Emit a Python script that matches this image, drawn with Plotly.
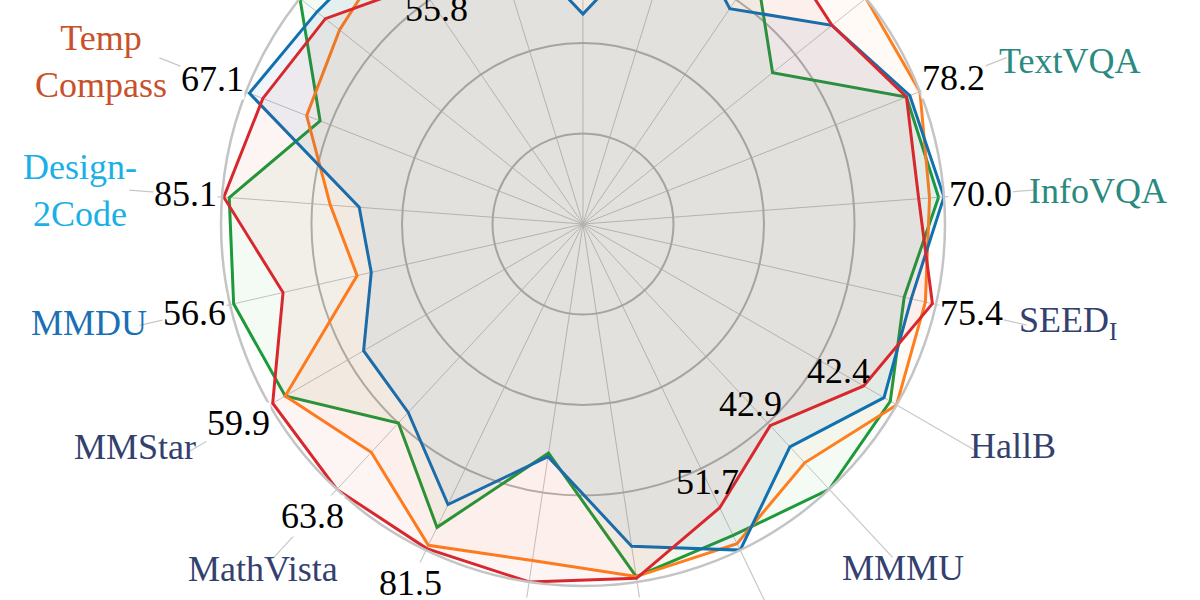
import numpy as np
import plotly.graph_objects as go

# 21 axes, clockwise starting at InfoVQA
categories = ["InfoVQA", "SEED<sub>I</sub>", "HallB", "MMMU", "MMVet", "MMBench", "MME", "AI2D",
              "MathVista", "MMStar", "MMDU", "Design-<br>2Code", "Temp<br>Compass", "VideoMME",
              "MVBench", "MLVU", "LongVideo", "OCRBench", "ChartQA", "DocVQA", "TextVQA"]
cat_colors = ["#2a8a80", "#34406e", "#34406e", "#34406e", "#34406e", "#34406e", "#34406e", "#34406e",
              "#34406e", "#34406e", "#1a6fb5", "#1ab0e6", "#c8502a", "#c8502a",
              "#c8502a", "#c8502a", "#c8502a", "#2a8a80", "#2a8a80", "#2a8a80", "#2a8a80"]
value_labels = ["70.0", "75.4", "42.4", "42.9", "51.7", "79.4", "2329.0", "81.5",
                "63.8", "59.9", "56.6", "85.1", "67.1", "", "55.8", "", "", "", "", "", "78.2"]

# normalised scores (fraction of outer ring)
red    = [0.93, 0.99, 0.895, 0.76, 0.87, 0.99, 1.00, 0.995, 1.00, 0.99, 0.85, 0.995, 0.95, 0.91,
          0.80, 0.90, 0.95, 0.97, 0.95, 0.88, 0.96]
orange = [0.96, 0.97, 1.00, 0.90, 0.98, 0.985, 0.94, 0.985, 0.86, 0.95, 0.64, 0.70, 0.82, 0.86,
          0.93, 0.92, 0.90, 0.96, 0.99, 1.00, 1.00]
green  = [0.985, 0.91, 0.98, 1.00, 0.955, 0.985, 0.64, 0.93, 0.75, 0.95, 0.99, 0.98, 0.78, 1.00,
          0.97, 0.85, 0.90, 0.92, 0.85, 0.67, 0.96]
blue   = [1.00, 0.93, 0.96, 0.84, 1.00, 0.90, 0.65, 0.86, 0.71, 0.70, 0.60, 0.62, 0.99, 0.94,
          0.95, 0.90, 0.58, 0.90, 0.72, 0.88, 0.97]

series = [("green", green, "#1c9a3a", "rgba(44,160,44,0.05)"),
          ("orange", orange, "#ff7f1e", "rgba(255,127,14,0.04)"),
          ("blue", blue, "#1170b0", "rgba(31,119,180,0.07)"),
          ("red", red, "#d8282e", "rgba(214,39,40,0.05)")]

W, H, SHIFT = 1200, 1000, 300
CX, CY, R = 583, 224 + SHIFT, 362
ROT = 4.3
STEP = 360 / len(categories)

fig = go.Figure()
for name, vals, col, fillc in series:
    fig.add_trace(go.Scatterpolar(
        r=vals + vals[:1], theta=categories + categories[:1], mode="lines",
        line=dict(color=col, width=3), fill="toself", fillcolor=fillc,
        name=name, hoverinfo="skip"))

def pt(rpx, ang):
    a = np.deg2rad(ang)
    return (CX + rpx * np.cos(a)) / W, 1 - (CY - rpx * np.sin(a)) / H

annotations, shapes = [], []
INSIDE = {2, 3, 4, 14}
for k, cat in enumerate(categories):
    ang = ROT - STEP * k
    s, c = np.sin(np.deg2rad(ang)), np.cos(np.deg2rad(ang))
    x0, y0 = pt(R, ang)
    x1, y1 = pt(455, ang)
    shapes.append(dict(type="line", xref="paper", yref="paper", x0=x0, y0=y0, x1=x1, y1=y1,
                       line=dict(color="#c8c8c8", width=1.2), layer="below"))
    if abs(s) > 0.72:
        rr, xa = 470, "center"
    else:
        rr, xa = 445, "left" if c > 0 else "right"
    lx, ly = pt(rr, ang)
    annotations.append(dict(x=lx, y=ly, xref="paper", yref="paper", text=cat, showarrow=False,
                            xanchor=xa, yanchor="middle",
                            font=dict(family="Liberation Serif", size=36, color=cat_colors[k])))
    if value_labels[k]:
        if k in INSIDE:
            vr, bg = (red[k] - 0.08) * R, "rgba(0,0,0,0)"
        else:
            vr, bg = 1.1 * R, "white"
        vx, vy = pt(vr, ang)
        annotations.append(dict(x=vx, y=vy, xref="paper", yref="paper", text=value_labels[k],
                                showarrow=False, xanchor="center", yanchor="middle", bgcolor=bg,
                                borderpad=0,
                                font=dict(family="Liberation Serif", size=36, color="black")))

fig.update_layout(
    width=W, height=H, margin=dict(l=0, r=0, t=0, b=0),
    paper_bgcolor="white", showlegend=False,
    annotations=annotations, shapes=shapes,
    polar=dict(
        domain=dict(x=[(CX - R) / W, (CX + R) / W], y=[1 - (CY + R) / H, 1 - (CY - R) / H]),
        bgcolor="rgba(0,0,0,0)",
        angularaxis=dict(rotation=ROT, direction="clockwise", showticklabels=False, ticks="",
                         gridcolor="#c6c6c6", gridwidth=1, linecolor="#c4c4c4", linewidth=2.5,
                         showline=True),
        radialaxis=dict(range=[0, 1], tickvals=[0.25, 0.5, 0.75, 1.0], showticklabels=False,
                        ticks="", gridcolor="#b4b4b4", gridwidth=1.8, showline=False),
    ),
)

post = ("document.body.style.margin='0';document.body.style.overflow='hidden';"
        "var d=document.getElementById('{plot_id}');d.style.marginTop='-%dpx';" % SHIFT)
fig.write_html("out.html", post_script=post)
